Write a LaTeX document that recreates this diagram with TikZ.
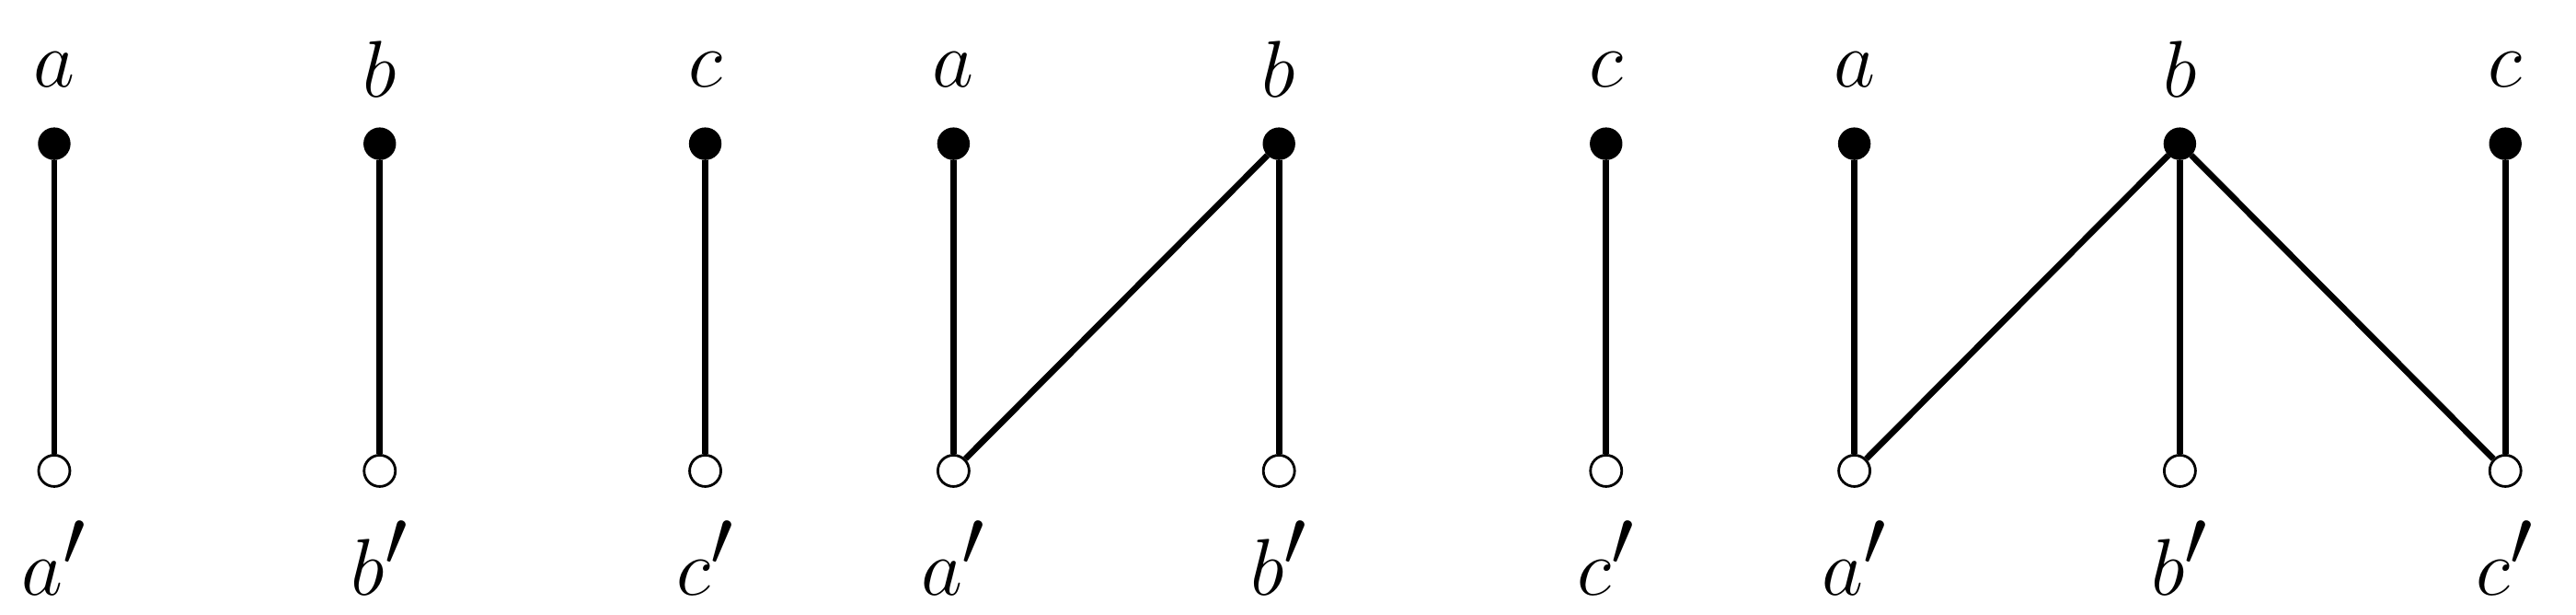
\documentclass[tikz,border=0pt]{standalone}
\begin{document}
\begin{tikzpicture}[x=0.01787cm,y=0.01795cm,
  top/.style={circle,fill=black,draw=black,inner sep=0pt,minimum size=0.34cm},
  bot/.style={circle,fill=white,draw=black,line width=0.8pt,inner sep=0pt,minimum size=0.34cm},
  lab/.style={font=\fontsize{50}{56}\selectfont},
  edge/.style={line width=1.9pt}]
\useasboundingbox (0,0) rectangle (1567,372);
\foreach \n/\x/\l in {a1/33/a,b1/231/b,c1/429/c,a2/580/a,b2/778/b,c2/977/c,a3/1128/a,b3/1326/b,c3/1524/c}{
  \node[top] (\n) at (\x,285) {};
  \node[bot] (\n') at (\x,87) {};
  \node[lab] at (\x,330) {$\l$};
  \node[lab] at (\x,34) {$\l'$};
}
\foreach \n in {a1,b1,c1,a2,b2,c2,a3,b3,c3}{\draw[edge] (\n) -- (\n');}
\draw[edge] (b2) -- (a2');
\draw[edge] (b3) -- (a3');
\draw[edge] (b3) -- (c3');
\end{tikzpicture}
\end{document}
